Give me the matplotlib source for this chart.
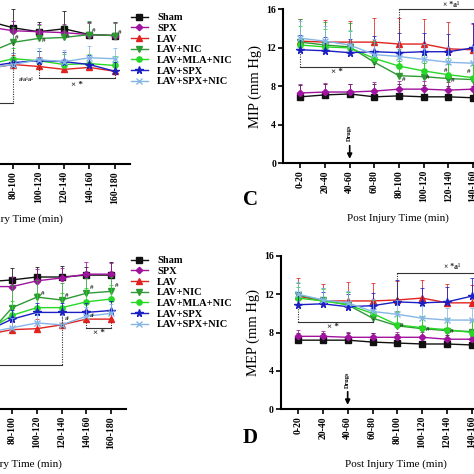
import numpy as np
import matplotlib
matplotlib.use("Agg")
import matplotlib.pyplot as plt

plt.rcParams['font.family'] = ['Liberation Serif', 'DejaVu Serif']
plt.rcParams['font.weight'] = 'bold'

time_labels = ["0-20", "20-40", "40-60", "60-80", "80-100",
               "100-120", "120-140", "140-160", "160-180"]
groups = ["Sham", "SPX", "LAV", "LAV+NIC", "LAV+MLA+NIC", "LAV+SPX", "LAV+SPX+NIC"]
colors = ["#111111", "#a0139e", "#e0231f", "#2f9a35", "#27d827", "#1c1fc4", "#86b6e6"]
markers = ["s", "D", "^", "v", "o", "*", "x"]
msizes = [3.8, 3.3, 3.8, 3.8, 3.8, 5.5, 3.8]

# panel A (top left, y axis cut off)
a_vals = [
    [14.6, 14.7, 14.7, 14.8, 14.1, 13.7, 14.0, 13.4, 13.3],
    [14.3, 14.2, 14.3, 14.2, 13.8, 13.7, 13.6, 13.4, 13.3],
    [10.2, 10.0, 10.0, 9.9, 10.3, 10.1, 9.8, 10.0, 9.6],
    [10.4, 10.3, 10.2, 11.5, 12.6, 13.0, 13.1, 13.4, 13.3],
    [10.4, 10.3, 10.3, 10.3, 10.9, 10.7, 10.3, 10.4, 10.2],
    [10.2, 10.1, 10.1, 10.1, 10.5, 10.7, 10.6, 10.3, 9.6],
    [10.0, 9.9, 9.9, 9.9, 10.3, 10.8, 10.6, 11.0, 10.9],
]
a_errs = [
    [1.8, 1.8, 1.8, 1.8, 1.9, 1.0, 1.8, 1.3, 1.4],
    [1.0, 1.0, 1.0, 1.0, 1.0, 0.8, 0.9, 1.2, 1.3],
    [1.0, 1.0, 1.0, 1.0, 1.0, 1.0, 1.0, 1.0, 1.0],
    [1.5, 1.5, 1.5, 1.5, 1.6, 1.4, 1.3, 1.4, 1.4],
    [1.0, 1.0, 1.0, 1.0, 1.1, 1.0, 1.1, 1.0, 1.0],
    [1.0, 1.0, 1.0, 1.0, 1.0, 1.0, 1.0, 1.0, 1.0],
    [1.2, 1.2, 1.2, 1.2, 1.2, 1.2, 1.2, 1.2, 1.1],
]

# panel B (bottom left, y axis cut off)
b_vals = [
    [13.0, 13.1, 13.2, 13.3, 13.5, 13.8, 13.8, 14.0, 14.0],
    [12.6, 12.7, 12.7, 12.8, 12.8, 13.4, 13.7, 14.1, 14.1],
    [7.9, 7.8, 7.8, 7.8, 8.3, 8.4, 8.8, 9.4, 9.4],
    [8.0, 7.9, 7.8, 7.7, 10.6, 11.7, 11.4, 12.1, 12.3],
    [7.9, 7.9, 8.0, 8.2, 9.8, 10.6, 10.6, 11.2, 11.5],
    [8.0, 8.0, 8.1, 8.2, 9.4, 10.1, 10.1, 10.1, 10.3],
    [7.9, 7.9, 8.0, 8.0, 8.5, 9.0, 8.8, 9.7, 10.0],
]
b_errs = [
    [1.2, 1.2, 1.2, 1.2, 1.2, 1.0, 1.2, 0.8, 1.4],
    [1.0, 1.0, 1.0, 1.0, 1.0, 1.2, 1.0, 1.3, 1.2],
    [1.0, 1.0, 1.0, 1.0, 1.0, 1.0, 1.0, 1.0, 1.0],
    [2.4, 2.4, 2.4, 2.4, 2.4, 1.8, 1.8, 1.6, 1.5],
    [1.5, 1.5, 1.5, 1.5, 1.5, 1.5, 1.5, 1.5, 1.5],
    [1.0, 1.0, 1.0, 1.0, 1.0, 1.0, 1.0, 1.0, 1.0],
    [1.0, 1.0, 1.0, 1.0, 1.0, 1.0, 1.0, 1.0, 1.0],
]

# panel C: MIP
mip_vals = [
    [6.9, 7.1, 7.2, 6.9, 7.0, 6.9, 6.9, 6.8, 6.8],
    [7.3, 7.4, 7.4, 7.5, 7.7, 7.7, 7.6, 7.7, 7.7],
    [12.7, 12.6, 12.6, 12.6, 12.4, 12.4, 11.9, 11.8, 11.8],
    [12.6, 12.3, 12.1, 10.5, 9.1, 9.0, 8.8, 8.7, 8.7],
    [12.3, 12.1, 12.0, 10.9, 10.1, 9.6, 9.2, 8.9, 8.9],
    [11.8, 11.7, 11.5, 11.6, 11.5, 11.6, 11.6, 12.0, 12.0],
    [13.0, 12.7, 12.3, 11.3, 11.1, 10.8, 10.5, 10.4, 10.4],
]
mip_errs = [
    [1.2, 1.1, 1.0, 1.3, 1.2, 1.2, 1.1, 1.2, 1.2],
    [0.9, 0.9, 0.8, 0.9, 0.8, 0.8, 0.8, 0.8, 0.8],
    [2.3, 2.3, 2.2, 2.5, 2.7, 2.6, 2.8, 2.7, 2.7],
    [2.4, 2.4, 2.5, 2.0, 1.5, 1.4, 1.5, 1.5, 1.5],
    [2.0, 1.9, 1.8, 1.8, 1.8, 1.7, 1.7, 1.6, 1.6],
    [1.5, 1.4, 1.4, 1.6, 2.0, 2.0, 1.8, 2.6, 2.6],
    [1.8, 1.6, 1.6, 1.6, 1.6, 1.6, 1.6, 1.8, 1.8],
]

# panel D: MEP
mep_vals = [
    [7.2, 7.2, 7.2, 7.0, 6.9, 6.8, 6.8, 6.7, 6.7],
    [7.6, 7.6, 7.5, 7.5, 7.5, 7.5, 7.3, 7.3, 7.3],
    [11.8, 11.3, 11.3, 11.3, 11.4, 11.6, 11.1, 11.1, 11.1],
    [11.9, 11.4, 10.9, 9.5, 8.7, 8.4, 8.2, 8.1, 8.0],
    [11.6, 11.3, 10.9, 10.0, 8.8, 8.5, 8.3, 8.0, 8.0],
    [10.9, 11.0, 10.7, 10.8, 11.2, 11.1, 11.2, 11.8, 11.8],
    [12.0, 11.4, 11.1, 10.2, 9.9, 9.5, 9.3, 9.3, 9.3],
]
mep_errs = [
    [0.8, 0.8, 0.8, 0.9, 0.9, 0.9, 0.9, 0.9, 0.9],
    [0.7, 0.6, 0.6, 0.5, 0.6, 0.6, 0.6, 0.6, 0.6],
    [1.9, 1.8, 2.0, 1.9, 2.0, 1.9, 2.0, 1.9, 1.9],
    [1.3, 1.2, 1.3, 1.5, 1.5, 1.2, 1.2, 1.2, 1.2],
    [1.2, 1.2, 1.3, 1.4, 1.3, 1.2, 1.2, 1.2, 1.2],
    [1.3, 1.2, 1.3, 1.3, 2.3, 1.6, 1.6, 1.9, 1.9],
    [1.3, 1.3, 1.2, 1.3, 1.5, 1.3, 1.3, 1.3, 1.3],
]

x = np.arange(len(time_labels))
line_gray = "#333333"


def draw_panel(ax, vals, errs):
    for i, g in enumerate(groups):
        v = np.array(vals[i])
        e = np.array(errs[i])
        ax.errorbar(x, v, yerr=[np.zeros_like(e), e], fmt="none", ecolor=colors[i],
                    elinewidth=0.7, capsize=1.6, capthick=0.7, alpha=0.8, clip_on=False)
        ax.plot(x, v, color=colors[i], marker=markers[i], ms=msizes[i], lw=1.0,
                mew=1.0, label=g, clip_on=False)
    ax.set_xlim(-0.7, 8.6)
    ax.set_ylim(0, 16)
    ax.set_yticks([0, 4, 8, 12, 16])
    ax.set_xticks(x)
    ax.set_xticklabels(time_labels, rotation=90)
    for s in ["top", "right"]:
        ax.spines[s].set_visible(False)
    for s in ["left", "bottom"]:
        ax.spines[s].set_linewidth(1.5)
    ax.tick_params(direction="out", length=3.5, width=1.2, labelsize=7, pad=1.5)
    ax.set_xlabel("Post Injury Time (min)", fontsize=8, labelpad=8)


def bracket(ax, x0, x1, y, ends):
    ax.plot([x0, x1], [y, y], color=line_gray, lw=0.8, clip_on=False)
    for xe, ye in ends:
        ax.plot([xe, xe], [y, ye], color=line_gray, lw=0.8, ls=(0, (1, 1.2)), clip_on=False)


def note(ax, xv, yv, s, size=5):
    ax.text(xv, yv, s, fontsize=size, ha="center", va="center", color="#222222", clip_on=False)


def drugs(ax):
    ax.annotate("", xy=(2, 0.15), xytext=(2, 2.1),
                arrowprops=dict(arrowstyle="-|>", color="black", lw=1.2, mutation_scale=7))
    ax.text(2, 3.1, "Drugs", rotation=90, fontsize=4.5, ha="center", va="center")


fig = plt.figure(figsize=(4.74, 4.74), dpi=100)
ax_a = fig.add_axes([-106 / 474, 0.654, 236 / 474, 0.326])
ax_b = fig.add_axes([-103.9 / 474, 0.137, 229.7 / 474, 0.323])
ax_c = fig.add_axes([283 / 474, 0.656, 229.7 / 474, 0.324])
ax_d = fig.add_axes([280.6 / 474, 0.137, 231 / 474, 0.323])

draw_panel(ax_a, a_vals, a_errs)
draw_panel(ax_b, b_vals, b_errs)
draw_panel(ax_c, mip_vals, mip_errs)
draw_panel(ax_d, mep_vals, mep_errs)

ax_c.set_ylabel("MIP (mm Hg)", fontsize=10.5, labelpad=3)
ax_d.set_ylabel("MEP (mm Hg)", fontsize=10.5, labelpad=3)

for ax, top in [(ax_a, 13.0), (ax_b, 256.0)]:
    ax.legend(loc="upper left", bbox_to_anchor=(131 / 474, 1 - top / 474),
              bbox_transform=fig.transFigure, frameon=False, fontsize=7.5,
              handlelength=1.6, handletextpad=0.9, labelspacing=0.13, borderpad=0,
              borderaxespad=0)

# panel A annotations
for xv, yv in [(4.14, 13.1), (5.2, 12.8), (6.15, 13.2), (7.18, 13.8), (8.2, 13.6)]:
    note(ax_a, xv, yv, "#")
note(ax_a, 4.5, 8.8, "a¹a¹a¹", 4.5)
bracket(ax_a, 5, 8, 8.9, [(5, 10.1), (8, 10.1)])
note(ax_a, 6.5, 8.2, "× *", 6.5)
ax_a.plot([4, 4], [12.6, 6.3], color=line_gray, lw=0.8, ls=(0, (1, 1.2)))
ax_a.plot([-0.7, 4], [6.3, 6.3], color=line_gray, lw=0.8)

# panel B annotations
for xv, yv in [(5.25, 12.1), (6.2, 11.9), (7.23, 12.7), (8.24, 12.9)]:
    note(ax_b, xv, yv, "#")
note(ax_b, 6.25, 9.5, "a¹", 4.5)
note(ax_b, 7.25, 9.8, "a¹", 4.5)
bracket(ax_b, 7, 8, 8.5, [(7, 9.1), (8, 9.1)])
note(ax_b, 7.5, 7.9, "× *", 6.5)
ax_b.plot([6, 6], [9.6, 4.6], color=line_gray, lw=0.8, ls=(0, (1, 1.2)))
ax_b.plot([-0.7, 6], [4.6, 4.6], color=line_gray, lw=0.8)

# panel C annotations
bracket(ax_c, 0, 3, 10.0, [(0, 11.6), (3, 10.4)])
note(ax_c, 1.5, 9.5, "× *", 6.5)
bracket(ax_c, 4, 8.6, 16.0, [(4, 13.6)])
note(ax_c, 6.1, 16.45, "× *a¹", 5.5)
for xv, yv in [(4.2, 8.75), (5.17, 8.96), (6.18, 8.65), (5.9, 9.6), (6.83, 9.5)]:
    note(ax_c, xv, yv, "#")
drugs(ax_c)

# panel D annotations
bracket(ax_d, 0, 3, 9.1, [(0, 10.9), (3, 9.5)])
note(ax_d, 1.4, 8.6, "× *", 6.5)
bracket(ax_d, 4, 8.6, 14.2, [(4, 11.4)])
note(ax_d, 6.2, 14.8, "× *a¹", 5.5)
for xv, yv in [(4.18, 8.77), (5.23, 8.35), (6.19, 8.14)]:
    note(ax_d, xv, yv, "#")
drugs(ax_d)

fig.text(251 / 474, 1 - 200 / 474, "C", fontsize=15, ha="center", va="center")
fig.text(250 / 474, 1 - 438 / 474, "D", fontsize=15, ha="center", va="center")

fig.savefig("out.png", dpi=100)
